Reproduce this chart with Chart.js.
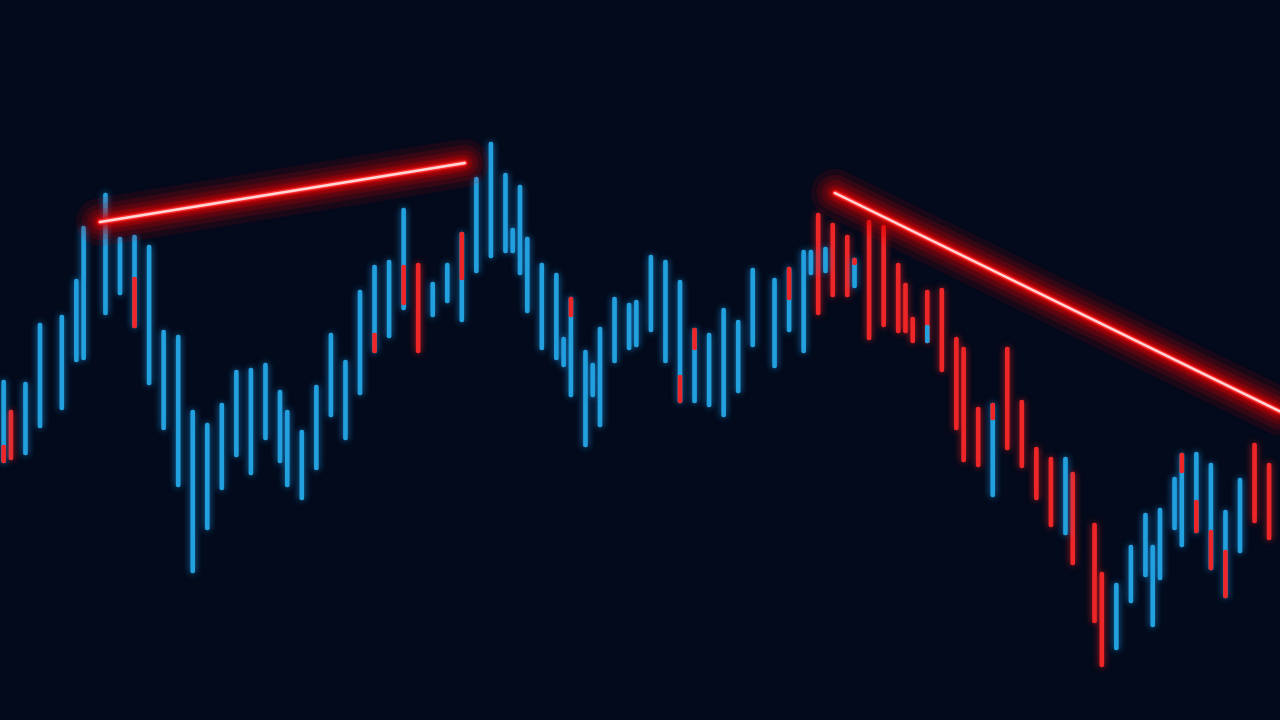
<!DOCTYPE html>
<html>
<head>
<meta charset="utf-8">
<title>Candles</title>
<script src="https://cdn.jsdelivr.net/npm/chart.js@4.4.0/dist/chart.umd.min.js"></script>
<style>
    html, body { margin: 0; padding: 0; background: #030a1b; }
    #wrap { width: 1280px; height: 720px; }
</style>
</head>
<body>
<div id="wrap"><canvas id="chart" width="1280" height="720"></canvas></div>
<script>
// Dados das velas (índice de tempo, máxima, mínima, direção)
const slotCount = 176;
const slots = [
    0, 1, 3, 5, 8, 10, 11, 14, 16, 18,
    20, 22, 24, 26, 28, 30, 32, 34, 36, 38,
    39, 41, 43, 45, 47, 49, 51, 53, 55, 57,
    59, 61, 63, 65, 67, 69, 70, 71, 72, 74,
    76, 77, 78, 80, 81, 82, 84, 86, 87, 89,
    91, 93, 95, 97, 99, 101, 103, 106, 108, 110,
    111, 112, 113, 114, 116, 117, 119, 121, 123, 124,
    125, 127, 129, 131, 132, 134, 136, 138, 140, 142,
    144, 146, 147, 150, 151, 153, 155, 157, 158, 159,
    161, 162, 164, 166, 168, 170, 172, 174
];
const highs = [
    34.0, 31.0, 33.8, 39.7, 40.5, 44.1, 49.4, 52.7, 48.3, 48.5,
    47.5, 39.0, 38.5, 31.0, 29.7, 31.7, 35.0, 35.2, 35.7, 33.0,
    31.0, 29.0, 33.5, 38.7, 36.0, 43.0, 45.5, 46.0, 51.2, 45.7,
    43.8, 45.7, 48.8, 54.3, 57.8, 54.7, 49.2, 53.5, 48.3, 45.7,
    44.7, 38.3, 42.3, 37.0, 35.7, 39.3, 42.3, 41.7, 42.0, 46.5,
    46.0, 44.0, 39.2, 38.7, 41.2, 40.0, 45.2, 44.2, 45.3, 47.0,
    47.0, 50.7, 47.3, 49.7, 48.5, 46.2, 50.0, 49.5, 45.7, 43.7,
    40.3, 43.0, 43.2, 38.3, 37.3, 31.3, 31.7, 37.3, 32.0, 27.3,
    26.3, 26.3, 24.8, 19.7, 14.8, 13.7, 17.5, 20.7, 17.5, 21.2,
    24.3, 26.7, 26.8, 25.7, 21.0, 24.2, 27.7, 25.7
];
const lows = [
    25.7, 26.0, 26.5, 29.2, 31.0, 35.8, 36.0, 40.5, 42.5, 39.2,
    33.5, 29.0, 23.3, 14.7, 19.0, 23.0, 26.3, 24.5, 28.0, 25.7,
    23.3, 22.0, 25.0, 30.3, 28.0, 32.5, 36.7, 38.2, 41.0, 36.7,
    40.3, 41.7, 39.8, 44.7, 46.2, 46.7, 46.7, 44.5, 40.7, 37.0,
    36.0, 35.3, 32.3, 27.3, 32.3, 29.3, 35.7, 37.0, 37.3, 38.8,
    35.7, 31.7, 31.7, 31.3, 30.3, 32.7, 37.3, 35.2, 38.8, 36.7,
    44.5, 40.5, 44.7, 42.3, 42.3, 43.2, 38.0, 39.3, 38.7, 38.7,
    37.7, 37.7, 34.8, 29.0, 25.8, 25.3, 22.3, 27.0, 25.2, 22.0,
    19.3, 18.5, 15.5, 9.7, 5.3, 7.0, 11.7, 14.3, 9.3, 14.0,
    19.0, 17.3, 18.7, 15.0, 12.2, 16.7, 19.7, 18.0
];
const dirs = [
    'u','d','u','u','u','u','u','u','u','u',
    'u','u','u','u','u','u','u','u','u','u',
    'u','u','u','u','u','u','u','u','u','d',
    'u','u','u','u','u','u','u','u','u','u',
    'u','u','u','u','u','u','u','u','u','u',
    'u','u','u','u','u','u','u','u','u','u',
    'u','d','u','d','d','u','d','d','d','d',
    'd','d','d','d','d','d','u','d','d','d',
    'd','u','d','d','d','u','u','u','u','u',
    'u','u','u','u','u','u','d','d'
];

// Trechos de cor contrária dentro de algumas velas
const accentSlots = [0, 18, 51, 55, 63, 78, 93, 95, 108, 117, 127, 136, 162, 164, 166, 168];
const accentHighs = [27.5, 44.3, 38.7, 45.5, 48.8, 42.3, 34.5, 39.2, 45.3, 46.2, 39.5, 31.7, 26.7, 22.0, 19.0, 17.0];
const accentLows  = [25.7, 39.2, 36.7, 41.5, 44.0, 40.3, 31.7, 37.0, 42.0, 45.5, 37.7, 30.0, 24.7, 18.7, 15.0, 12.2];

// Linhas de tendência
const trendAx = [13.25, 63.4];
const trendAy = [49.8, 55.7];
const trendBx = [114.3, 175.5];
const trendBy = [52.7, 30.85];

const BLUE = '#23a0de';
const RED = '#ee2628';

// Monta as séries de barras flutuantes
function buildSeries(dir) {
    const arr = new Array(slotCount).fill(null);
    slots.forEach((s, i) => {
        if (dirs[i] === dir) arr[s] = [lows[i], highs[i]];
    });
    return arr;
}

function buildAccents(dir) {
    // acento azul sobre vela vermelha e vice-versa
    const arr = new Array(slotCount).fill(null);
    accentSlots.forEach((s, i) => {
        const idx = slots.indexOf(s);
        if (idx >= 0 && dirs[idx] !== dir) arr[s] = [accentLows[i], accentHighs[i]];
    });
    return arr;
}

function trendPoints(xs, ys) {
    return xs.map((x, i) => ({ x: x, y: ys[i] }));
}

// Brilho (sombra) por dataset
const glowPlugin = {
    id: 'glow',
    beforeDatasetDraw(chart, args) {
        const ds = chart.data.datasets[args.index];
        if (!ds.glowColor) return;
        chart.ctx.save();
        chart.ctx.shadowColor = ds.glowColor;
        chart.ctx.shadowBlur = ds.glowBlur;
    },
    afterDatasetDraw(chart, args) {
        const ds = chart.data.datasets[args.index];
        if (ds.glowColor) chart.ctx.restore();
    }
};

// order menor = desenhado por cima
function lineSet(points, width, color, order, glowColor, glowBlur) {
    return {
        type: 'line',
        data: points,
        xAxisID: 'xl',
        borderColor: color,
        borderWidth: width,
        borderCapStyle: 'round',
        pointRadius: 0,
        fill: false,
        tension: 0,
        order: order,
        glowColor: glowColor || null,
        glowBlur: glowBlur || 0
    };
}

// camadas de halo (largura, opacidade) para simular o brilho
const hazeLayers = [[48, 0.11], [36, 0.14], [26, 0.17], [16, 0.22], [9, 0.35]];

function trendSets(points) {
    const sets = hazeLayers.map((l, i) =>
        lineSet(points, l[0], 'rgba(215,0,0,' + l[1] + ')', 10 - i, 'rgba(215,0,0,' + l[1] + ')', 16));
    sets.push(lineSet(points, 5, '#ff1c1c', 2, '#ff0000', 8));
    sets.push(lineSet(points, 2.5, '#ffd6d6', 1, '#ff6060', 3));
    return sets;
}

const labels = Array.from({ length: slotCount }, (_, i) => 't' + i);
const barBase = { barThickness: 4, borderWidth: 0, borderRadius: 2, borderSkipped: false, grouped: false };

new Chart(document.getElementById('chart'), {
    type: 'bar',
    data: {
        labels: labels,
        datasets: [
            Object.assign({ data: buildSeries('u'), backgroundColor: BLUE, order: 20, glowColor: 'rgba(30,150,230,0.8)', glowBlur: 7 }, barBase),
            Object.assign({ data: buildSeries('d'), backgroundColor: RED, order: 20, glowColor: 'rgba(230,30,30,0.8)', glowBlur: 7 }, barBase),
            Object.assign({ data: buildAccents('u'), backgroundColor: BLUE, order: 19 }, barBase),
            Object.assign({ data: buildAccents('d'), backgroundColor: RED, order: 19 }, barBase)
        ]
            .concat(trendSets(trendPoints(trendAx, trendAy)))
            .concat(trendSets(trendPoints(trendBx, trendBy)))
    },
    options: {
        responsive: false,
        animation: false,
        devicePixelRatio: 1,
        layout: { padding: 0 },
        plugins: { legend: { display: false }, tooltip: { enabled: false } },
        scales: {
            x: { display: false, grid: { display: false } },
            xl: { type: 'linear', display: false, offset: false, min: -0.5, max: slotCount - 0.5 },
            y: { display: false, min: 0, max: 72 }
        }
    },
    plugins: [glowPlugin]
});
</script>
</body>
</html>
